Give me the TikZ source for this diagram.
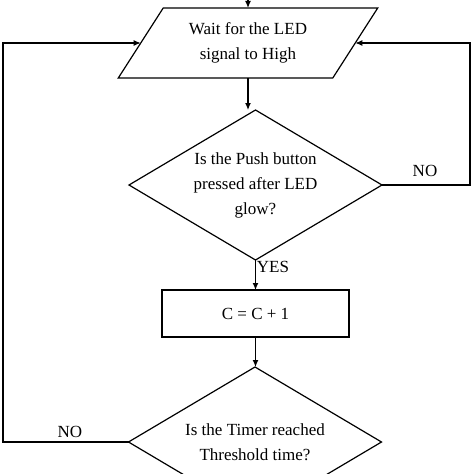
\documentclass[tikz,border=0pt]{standalone}
\usepackage{fontspec}
\setmainfont{Liberation Serif}
\usetikzlibrary{shapes.geometric,arrows.meta}
\begin{document}
\begin{tikzpicture}[x=1pt,y=-1pt,
  line width=1.2pt,
  txt/.style={font=\fontsize{17}{25}\selectfont, align=center},
  arr/.style={-{Latex[length=7pt,width=6pt]}},
  para/.style={trapezium, trapezium stretches=true, trapezium left angle=52.4, trapezium right angle=127.6, draw, minimum width=260pt, minimum height=70pt, inner sep=0pt, outer sep=0pt, txt},
  dec/.style={diamond, draw, shape aspect=1.69, minimum width=253pt, minimum height=150pt, inner sep=0pt, outer sep=0pt, txt},
  proc/.style={rectangle, draw, minimum width=187pt, minimum height=47pt, inner sep=0pt, outer sep=0pt, txt},
  lbl/.style={font=\fontsize{17}{20}\selectfont, inner sep=0pt}
]
\useasboundingbox (0,0) rectangle (474,474);
\clip (0,0) rectangle (474,474);
\node[para] (p) at (248,43) {Wait for the LED\\signal to High};
\node[dec] (d1) at (255.5,185) {Is the Push button\\pressed after LED\\glow?};
\node[proc] (r) at (255.5,313.5) {C = C + 1};
\node[dec] (d2) at (255,442) {Is the Timer reached\\Threshold time?};
\coordinate (tin) at (p.north |- 0,-10);
\coordinate (rc) at (470,185);
\coordinate (lc) at (3,442);
\draw[arr] (tin) -- (p.north);
\draw[arr] (p.south) -- (p.south |- d1.north);
\draw[arr] (d1.east) -- (rc) |- (p.east);
\node[lbl] (no1) at (425,171) {NO};
\draw[arr] (d1.south) -- (d1.south |- r.north);
\node[lbl] (yes) at (273,267) {YES};
\draw[arr] (r.south) -- (r.south |- d2.north);
\draw[arr] (d2.west) -- (lc) |- (p.west);
\node[lbl] (no2) at (70,432) {NO};
\end{tikzpicture}
\end{document}
